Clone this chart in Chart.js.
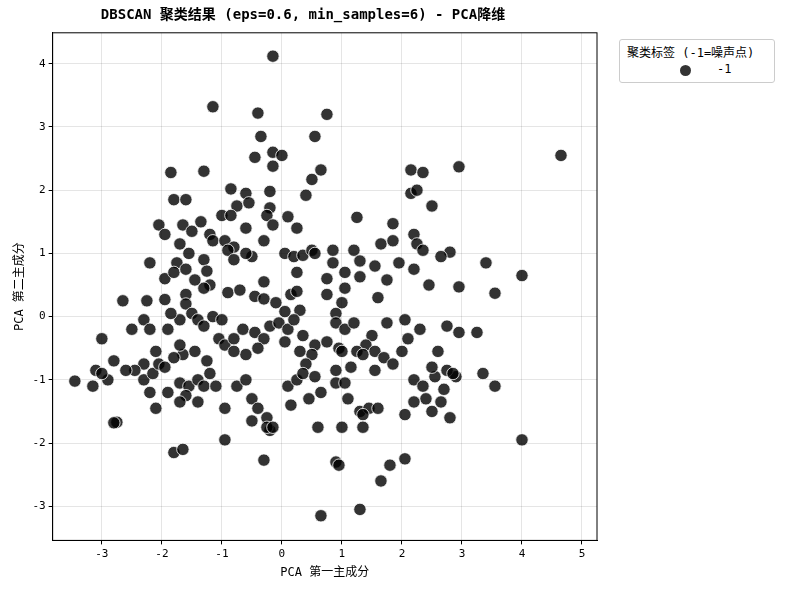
<!DOCTYPE html>
<html><head><meta charset="utf-8">
<script src="https://cdn.jsdelivr.net/npm/chart.js@4.4.0/dist/chart.umd.min.js"></script>
<style>
body{margin:0;background:#fff;font-family:"DejaVu Sans Mono","Noto Sans CJK SC",monospace}
#wrap{position:relative;width:785px;height:590px}
#legend{position:absolute;left:619px;top:39px;width:154px;height:42px;border:1px solid #ccc;border-radius:3px;background:#fff;font-size:12px;color:#000}
#legend .t{position:absolute;left:7px;top:3px}
#legend .d{position:absolute;left:60px;top:25px;width:11px;height:11px;border-radius:50%;background:rgba(0,0,0,0.8)}
#legend .l{position:absolute;left:97px;top:22px}
</style></head><body>
<div id="wrap"><canvas id="c" width="785" height="590"></canvas>
<div id="legend"><span class="t">聚类标签 (-1=噪声点)</span><span class="d"></span><span class="l">-1</span></div></div>
<script>
const xs=[-0.15,-1.15,-0.4,0.75,-0.35,0.55,-0.45,-0.15,0.0,-0.15,0.65,0.5,2.95,-1.85,-1.3,2.15,2.35,0.4,2.15,2.5,2.25,-0.85,-0.6,-0.2,-1.8,-1.6,-0.75,-0.55,4.65,1.25,1.85,-1.0,-0.85,0.1,-0.2,-0.25,-2.05,-1.35,-1.65,-0.6,
-1.95,-1.5,-1.2,-1.15,-0.95,-0.8,-0.3,-0.15,0.25,0.05,0.2,0.35,0.5,0.55,0.85,1.2,1.65,1.85,2.2,2.25,2.35,2.8,2.65,3.4,4.0,3.55,
-2.2,-1.7,-1.55,-1.75,-1.95,-1.8,-1.6,-1.3,-1.25,-0.9,-0.8,-0.5,-0.6,-0.3,0.25,0.85,0.75,1.05,1.3,1.55,1.95,2.2,1.75,1.3,2.45,2.95,
-2.25,-1.95,-1.6,-1.2,-1.3,-1.45,-0.9,-0.45,-0.3,-0.7,-0.1,0.15,0.25,0.05,0.3,0.75,1.05,1.6,1.0,0.9,
-3.0,-2.65,-2.5,-2.3,-2.2,-1.9,-1.7,-1.6,-1.85,-1.5,-1.4,-1.3,-1.15,-1.0,-1.05,-0.95,-0.8,-0.65,-0.45,-0.2,-0.05,0.1,0.2,0.35,0.55,0.9,1.05,1.2,1.5,1.75,2.05,2.1,2.3,2.75,2.95,3.25,1.4,1.55,1.7,1.85,1.25,0.95,1.0,0.75,0.5,0.05,0.3,-0.3,-0.4,-0.6,-0.8,-1.25,-1.45,-1.65,-1.7,-1.8,-2.1,-2.3,-2.45,-2.6,-2.8,-3.1,-2.9,-3.45,-3.15,-3.0,-2.3,-2.15,-2.05,-1.95,-2.2,-2.1,-1.9,-1.7,-1.55,-1.6,-1.4,-1.2,-1.3,-1.1,-1.4,-1.7,-2.75,-2.8,-1.8,-1.65,-0.95,-0.75,-0.6,-0.5,-0.4,-0.5,-0.25,-0.2,-0.25,-0.15,-0.95,-0.3,0.1,0.25,0.4,0.35,0.55,0.9,0.9,1.05,0.65,0.45,0.15,0.6,0.9,0.95,1.0,1.3,1.45,1.6,1.35,1.35,1.8,1.65,2.05,0.65,1.3,1.15,1.35,1.55,2.2,2.35,2.4,2.5,2.65,2.7,2.55,2.9,2.8,2.5,2.6,2.2,2.05,3.35,3.55,4.0,2.75,2.85,2.0,1.1];
const ys=[4.12,3.32,3.22,3.2,2.85,2.85,2.52,2.6,2.55,2.38,2.32,2.17,2.37,2.28,2.3,2.32,2.28,1.92,1.95,1.75,2.0,2.02,1.95,1.98,1.85,1.85,1.75,1.8,2.55,1.57,1.47,1.6,1.6,1.58,1.72,1.6,1.45,1.5,1.45,1.4,
1.3,1.35,1.3,1.2,1.2,1.1,1.2,1.45,1.4,1.0,0.95,0.97,1.05,1.0,1.05,1.05,1.15,1.2,1.3,1.15,1.05,1.02,0.95,0.85,0.65,0.37,
0.85,1.15,1.0,0.85,0.6,0.7,0.75,0.9,0.72,1.05,0.9,0.95,1.0,0.55,0.7,0.85,0.6,0.7,0.88,0.8,0.85,0.75,0.58,0.63,0.5,0.47,
0.25,0.27,0.35,0.5,0.45,0.58,0.38,0.32,0.28,0.42,0.22,0.35,0.4,0.08,0.1,0.35,0.45,0.3,0.22,0.05,
-0.35,0.25,-0.2,-0.05,-0.2,-0.2,-0.05,0.2,0.05,0.05,-0.05,-0.15,0.0,-0.05,-0.35,-0.45,-0.35,-0.2,-0.25,-0.15,-0.1,-0.2,-0.05,-0.3,-0.45,-0.1,-0.2,-0.1,-0.3,-0.1,-0.05,-0.35,-0.2,-0.15,-0.25,-0.25,-0.45,-0.55,-0.65,-0.75,-0.55,-0.5,-0.55,-0.4,-0.6,-0.4,-0.55,-0.35,-0.5,-0.6,-0.55,-0.7,-0.55,-0.6,-0.45,-0.65,-0.55,-0.75,-0.85,-0.85,-0.7,-0.85,-1.0,-1.02,-1.1,-0.9,-1.0,-0.9,-0.75,-0.8,-1.2,-1.45,-1.2,-1.05,-1.1,-1.25,-1.0,-0.9,-1.1,-1.1,-1.35,-1.35,-1.67,-1.68,-2.15,-2.1,-1.45,-1.1,-1.0,-1.3,-1.45,-1.65,-1.6,-1.8,-1.75,-1.75,-1.95,-2.27,-1.1,-1.0,-0.75,-0.9,-0.95,-0.85,-1.05,-1.05,-1.2,-1.3,-1.4,-1.75,-2.3,-2.35,-1.75,-1.5,-1.45,-1.45,-1.55,-1.75,-2.35,-2.6,-2.25,-3.15,-3.05,-0.8,-0.6,-0.85,-1.0,-1.1,-1.3,-1.5,-1.35,-1.15,-0.95,-0.95,-1.6,-0.8,-0.55,-1.35,-1.55,-0.9,-1.1,-1.95,-0.85,-0.9,-0.55,-1.3];
const labels=['-1'];
const xTicks=[-3,-2,-1,0,1,2,3,4,5];
const yTicks=[-3,-2,-1,0,1,2,3,4];
const pts=xs.map((x,i)=>({x,y:ys[i]}));
const F="'DejaVu Sans Mono','Noto Sans CJK SC',monospace";
const frame={id:'frame',afterDraw(c){const a=c.chartArea,g=c.ctx;g.save();g.strokeStyle='#000';g.lineWidth=1;g.strokeRect(a.left,a.top,a.right-a.left,a.bottom-a.top);g.restore();}};
new Chart(document.getElementById('c'),{type:'scatter',
data:{datasets:[{label:labels[0],data:pts,backgroundColor:'rgba(0,0,0,0.8)',borderColor:'#fff',borderWidth:0.8,pointRadius:6.2,pointHoverRadius:6.2}]},
options:{responsive:false,animation:false,layout:{padding:{left:9,right:188,top:0,bottom:6}},
plugins:{legend:{display:false},tooltip:{enabled:false},
title:{display:true,text:'DBSCAN 聚类结果 (eps=0.6, min_samples=6) - PCA降维',color:'#000',font:{family:F,size:14,weight:'bold'},padding:{top:7,bottom:9}}},
scales:{x:{type:'linear',min:-3.82,max:5.25,afterBuildTicks(ax){ax.ticks=xTicks.map(v=>({value:v}));},ticks:{color:'#000',font:{family:F,size:11}},grid:{color:'rgba(0,0,0,0.1)',tickColor:'#000',tickLength:4},border:{color:'#000'},
title:{display:true,text:'PCA 第一主成分',color:'#000',font:{family:F,size:12},padding:{top:2}}},
y:{type:'linear',min:-3.54,max:4.49,afterBuildTicks(ax){ax.ticks=yTicks.map(v=>({value:v}));},ticks:{color:'#000',font:{family:F,size:11}},grid:{color:'rgba(0,0,0,0.1)',tickColor:'#000',tickLength:4},border:{color:'#000'},
title:{display:true,text:'PCA 第二主成分',color:'#000',font:{family:F,size:12},padding:{bottom:2}}}}},
plugins:[frame]});
</script></body></html>
